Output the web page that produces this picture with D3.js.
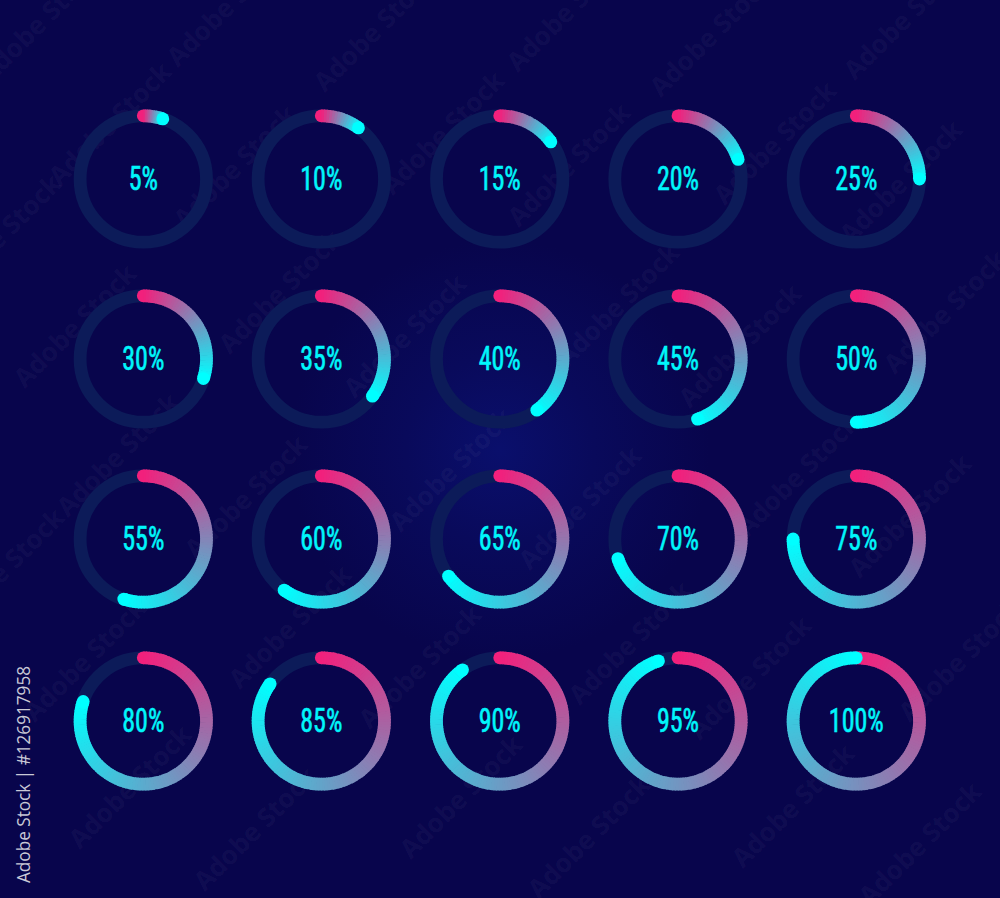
<!DOCTYPE html>
<html><head><meta charset="utf-8">
<style>html,body{margin:0;padding:0;background:#08054c;overflow:hidden}svg{display:block}</style>
<script src="https://cdn.jsdelivr.net/npm/d3@7/dist/d3.min.js"></script></head><body>
<script>
const percentValues=[5,10,15,20,25,30,35,40,45,50,55,60,65,70,75,80,85,90,95,100];
const columnKeys=[0,1,2,3,4];
const rowKeys=[0,1,2,3];
const columnCenters=[143.3,321.3,499.7,678,856.3];
const rowCenters=[179,359,539,721];
const stampCenters=[[40,22],[110,124],[235,167],[375,30],[443,133],[569,165],[711,35],[775,143],[901,182],[905,18],[568,10],[228,5],
[75,326],[280,292],[405,336],[618,305],[740,346],[945,312],[118,455],[246,497],[451,470],[580,508],[798,475],[910,516],
[290,627],[85,660],[420,667],[630,643],[750,678],[960,660],[130,787],[255,829],[461,797],[589,837],[793,806],[920,844],[3,570],[0,236]];

const W=1000,H=898,outerR=69.6,innerR=56.8,midR=(outerR+innerR)/2;
const svg=d3.select("body").append("svg").attr("width",W).attr("height",H);
const defs=svg.append("defs");
const glow=defs.append("radialGradient").attr("id","glow").attr("gradientUnits","userSpaceOnUse")
  .attr("cx",500).attr("cy",450).attr("r",210);
glow.append("stop").attr("offset",0).attr("stop-color","#0a0f6c");
glow.append("stop").attr("offset",.45).attr("stop-color","#090a5b");
glow.append("stop").attr("offset",1).attr("stop-color","#08054c");
svg.append("rect").attr("width",W).attr("height",H).attr("fill","url(#glow)");

const xScale=d3.scaleOrdinal(columnKeys,columnCenters);
const yScale=d3.scaleOrdinal(rowKeys,rowCenters);
const angle=d3.scaleLinear().domain([0,100]).range([0,2*Math.PI]);
const colour=d3.scaleLinear().domain([0,1]).range(["#f2207c","#00ffff"]).interpolate(d3.interpolateRgb);
const arc=d3.arc().innerRadius(innerR).outerRadius(outerR);

svg.append("g").selectAll("text").data(stampCenters).join("text")
  .attr("transform",d=>`translate(${d[0]},${d[1]}) rotate(-45)`)
  .attr("text-anchor","middle").attr("dy",9)
  .attr("font-family","'Open Sans',sans-serif").attr("font-weight",700).attr("font-size",26)
  .attr("fill","#ffffff").attr("fill-opacity",.05).text("Adobe Stock");

const marks=svg.selectAll("g.gauge").data(percentValues).join("g").attr("class","gauge")
  .attr("transform",(d,i)=>`translate(${xScale(i%5)},${yScale(Math.floor(i/5))})`);
marks.append("circle").attr("r",midR).attr("fill","none").attr("stroke","#0c1b59").attr("stroke-width",outerR-innerR);

marks.each(function(v){
  const g=d3.select(this), end=angle(v), step=d3.range(0,Math.max(12,Math.round(v*1.5)));
  const n=step.length;
  const p0=d3.pointRadial(0,midR), p1=d3.pointRadial(end,midR);
  g.append("circle").attr("cx",p0[0]).attr("cy",p0[1]).attr("r",(outerR-innerR)/2).attr("fill",colour(0));
  g.selectAll("path.seg").data(step).join("path").attr("class","seg")
    .attr("d",k=>arc({startAngle:end*k/n,endAngle:Math.min(end,end*(k+1)/n+0.012)}))
    .attr("fill",k=>colour((k+.5)/n));
  g.append("circle").attr("cx",p1[0]).attr("cy",p1[1]).attr("r",(outerR-innerR)/2).attr("fill",colour(1));
  g.append("text").attr("text-anchor","middle").attr("y",11)
    .attr("transform","scale(.8,1)")
    .attr("font-family","'Liberation Sans Narrow','Roboto Condensed',Roboto,sans-serif")
    .attr("font-size",32.5).attr("font-weight",400).attr("fill","#00f6fb").attr("stroke","#00f6fb").attr("stroke-width",.6)
    .text(v+"%");
});

svg.append("text").attr("transform","translate(30,883) rotate(-90)")
  .attr("font-family","'Open Sans',sans-serif").attr("font-size",19).attr("fill","#c9c9d6")
  .attr("textLength",217).attr("lengthAdjust","spacingAndGlyphs").text("Adobe Stock | #126917958");
</script></body></html>
